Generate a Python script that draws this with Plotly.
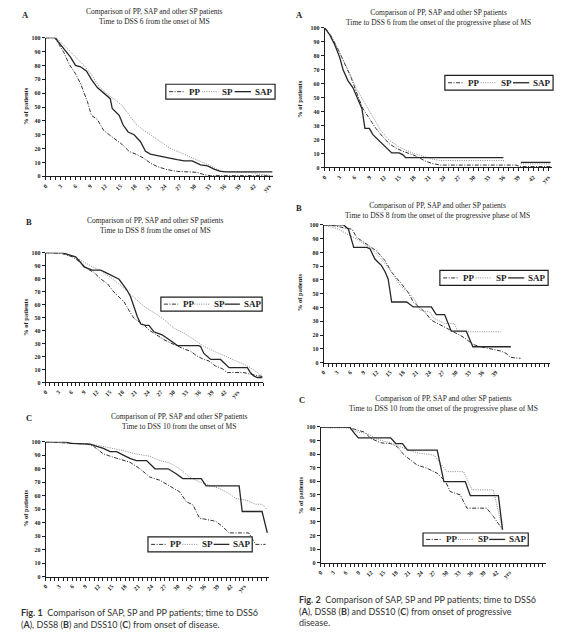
import plotly.graph_objects as go

W, H = 563, 640

# ---------------- data (years, % of patients) ----------------
SERIES = ["PP", "SP", "SAP"]

# Fig 1 A: time to DSS 6 from onset of MS
F1A_PP_X = [0, 1.8, 2.7, 3.7, 4.7, 6, 7, 8.4, 9.2, 10.4, 11.7, 12.8, 14.1, 15.4, 16.8, 18.5, 19.8, 21.1, 22.5, 24.5, 26.5, 28.9, 30.5, 31.9, 33.2, 45.7]
F1A_PP_Y = [100, 100, 95, 89, 81, 74, 67, 54, 44, 41, 33, 30, 26, 23, 18, 15.5, 13, 9.5, 7, 4.8, 3.6, 3, 2.9, 1.2, 0.5, 0.5]
F1A_SP_X = [0, 1.7, 2.7, 4.4, 6, 7.7, 9.1, 10.7, 12.4, 14.1, 15.4, 16.8, 18.1, 19.8, 21.5, 23.2, 25.2, 27.2, 29.2, 31.2, 33.2, 34.6, 36, 38.6, 41.3, 42.6, 44, 45.3]
F1A_SP_Y = [100, 100, 98, 92, 86, 80, 74, 65, 59, 55, 51, 44, 38, 33, 29, 25, 20, 17, 14, 11, 7.6, 4.8, 3.6, 3, 2.9, 1.7, 1.2, 0.7]
F1A_SAP_X = [0, 2, 2.3, 4, 5, 6, 7, 8.2, 9.2, 10.4, 11.7, 13, 13.4, 14.8, 15.6, 16.6, 17.8, 19.1, 20.1, 21.1, 22.5, 23.8, 25.2, 26.5, 27.9, 29.5, 31.2, 32.6, 33.9, 35.2, 36.2, 45.7]
F1A_SAP_Y = [100, 100, 98, 90, 86, 80, 79, 76, 70, 64, 60, 56, 49, 44, 37, 32, 30, 25, 18, 16, 15, 14.3, 13, 12, 11.2, 11.2, 8.3, 7.6, 5.2, 3.6, 3.3, 3.3]

# Fig 1 B: time to DSS 8 from onset of MS
F1B_PP_X = [0, 3.9, 6.3, 8.2, 9.8, 11.3, 12.9, 14.5, 16, 17.2, 18.4, 19.5, 20.7, 21.9, 23, 24.2, 25.4, 26.6, 27.7, 29.3, 30.9, 32.4, 34, 35.5, 37.1, 38.3, 39.8, 41.4, 42.6, 46.5, 48, 49.6, 50.8]
F1B_PP_Y = [100, 99.2, 96.7, 92.4, 87.3, 84.8, 79.7, 76, 69.6, 65.8, 62, 55.7, 49.4, 46.8, 44.3, 40.5, 38, 35.4, 33, 30.4, 27.8, 25.8, 24, 20.3, 17.7, 16.5, 12.7, 10.6, 7.6, 7.6, 6.3, 5, 4.6]
F1B_SP_X = [0, 3.9, 6.3, 8.2, 10.5, 12.9, 15.2, 17.6, 19.9, 21.5, 23, 25.4, 27.7, 30.1, 32.4, 34.8, 37.1, 39.5, 41.8, 44.1, 46.5, 48, 49.6, 50.8]
F1B_SP_Y = [100, 99.2, 97.5, 94, 90, 86, 81, 74.7, 68, 63, 58.7, 53.7, 48.6, 41.8, 38, 33, 27.8, 24, 20.8, 17.7, 13.9, 11.4, 7.6, 5]
F1B_SAP_X = [0, 3.9, 5.1, 6.3, 7, 8.2, 9, 10.9, 12.9, 14, 15.2, 16.4, 17.2, 18, 19.1, 19.9, 20.7, 21.5, 22.3, 23.4, 24.2, 25.4, 26.2, 27.3, 28.9, 29.7, 30.9, 35.9, 36.3, 37.1, 38, 38.7, 41, 41.8, 43, 47.3, 48, 48.8, 49.6, 50.8]
F1B_SAP_Y = [100, 100, 98.7, 97.5, 96.7, 92.4, 89, 86.6, 86.6, 84.8, 83, 81, 79.5, 76, 71, 66, 58, 50.6, 45, 44, 44, 39, 38, 36.7, 33, 31, 28.4, 28.4, 27.8, 22.3, 19.7, 17.7, 17.7, 15.2, 11.4, 11.4, 7.6, 5, 3.8, 3.8]

# Fig 1 C: time to DSS 10 from onset of MS
F1C_PP_X = [0, 9.4, 10.9, 13.1, 16.1, 19.1, 21.4, 23.6, 25.9, 28.1, 30.4, 31.9, 33.4, 34.9, 37.1, 38.6, 40.1, 41.6, 46.1, 47.6, 49.9]
F1C_PP_Y = [100, 98.3, 96.6, 91, 87.8, 84.9, 80, 73.9, 71.5, 67.3, 62.9, 55.6, 53.2, 43.4, 42.2, 41, 37.3, 32.4, 32.4, 23.9, 23.9]
F1C_SP_X = [0, 10.1, 13.1, 15.4, 17.6, 20.6, 23.6, 25.9, 28.1, 30.4, 32.6, 34.9, 37.1, 39.4, 41.6, 43.1, 45.4, 47.6, 49.1, 50.3]
F1C_SP_Y = [100, 98.3, 96.6, 95.1, 93.4, 91, 89.3, 86.1, 84.4, 80, 73.9, 70.2, 67.8, 65.4, 61.7, 58, 56.8, 53.7, 53.7, 49.5]
F1C_SAP_X = [0, 4.5, 5.6, 10.1, 11.6, 13.1, 14.6, 16.1, 17.6, 19.1, 20.6, 22.9, 24.8, 27.8, 29.6, 31.1, 35.3, 36.4, 43.9, 44.6, 49.1, 50.3]
F1C_SAP_Y = [100, 100, 98.8, 98.3, 96.6, 95.1, 92.7, 92.7, 90.2, 87.8, 86.1, 86.1, 80, 80, 76.3, 72.7, 72.7, 67.3, 67.3, 48.3, 48.3, 32.4]

# Fig 2 A: time to DSS 6 from onset of progressive phase
F2A_PP_X = [0, 1.3, 2.7, 4, 5.3, 6.7, 7.7, 9, 10.3, 11.7, 13, 14.3, 15.7, 17, 18.3, 19.3, 20.3, 21.7, 23.3, 38.5, 39.5, 45.5]
F2A_PP_Y = [100, 94, 84.6, 74, 64.5, 51, 42, 35, 28, 22, 17, 14, 11.6, 10, 8.3, 6.4, 4.5, 2.8, 1.7, 1.7, 0.6, 0.6]
F2A_SP_X = [0, 1.3, 3, 4.7, 6.3, 8, 9.7, 11.3, 13, 14.7, 16.3, 18, 19.7, 21, 22, 23.3, 36.4, None, 39.5, 45.5]
F2A_SP_Y = [100, 94, 82, 70, 57, 47, 36, 26.5, 19.4, 15.4, 12.3, 10, 8.3, 6.9, 5.7, 5, 5, None, 2.6, 2.6]
F2A_SAP_X = [0, 1, 2, 3, 3.7, 4.7, 5.7, 6.7, 7.5, 8.1, 9, 9.7, 10.7, 11.7, 12.7, 13.5, 15, 15.7, 16.3, 36, None, 39.5, 45.5]
F2A_SAP_Y = [100, 95, 88, 79, 70, 62, 57, 48, 42, 28, 28, 23.5, 20, 17, 13.5, 10.4, 10.4, 9.2, 7.1, 7.1, None, 3.6, 3.6]

# Fig 2 B: time to DSS 8 from onset of progressive phase
F2B_PP_X = [0, 2.6, 4.9, 6.4, 7.5, 9.8, 12, 13.9, 15.4, 17.3, 19.1, 20.3, 22.9, 24.4, 25.9, 27.8, 29.3, 30.8, 31.9, 33.8, 35.6, 38.6, 40.1, 41.3, 42.4, 44.6]
F2B_PP_Y = [100, 99.3, 97.6, 96.9, 90.9, 86, 81, 74, 65.6, 58.4, 51.2, 44, 36.8, 30.8, 28.4, 24.8, 22.4, 20, 18, 13.2, 11.5, 9.1, 8.4, 6.7, 3.8, 3.1]
F2B_SP_X = [0, 3.4, 5.3, 6.8, 8.6, 10.9, 13.1, 15.4, 17.3, 19.1, 20.6, 21.8, 24, 25.1, 27.4, 29.6, 30.4, 40.1]
F2B_SP_Y = [100, 96.9, 93.3, 90.9, 87.3, 82.5, 75.2, 65.6, 56, 51.2, 45.9, 38, 36.8, 32, 28.4, 28.4, 22.4, 22.4]
F2B_SAP_X = [0, 4.5, 5.6, 6.8, 9.8, 10.5, 11.6, 13.1, 13.9, 14.6, 15.4, 18.8, 20.3, 24.4, 25.5, 27.4, 28.9, 32.3, 33.8, 42.4]
F2B_SAP_Y = [100, 100, 96.9, 83.7, 83.7, 82.5, 75.2, 70.4, 66, 60.8, 44, 44, 40.4, 40.4, 34.9, 34.9, 22.8, 22.8, 11.5, 11.5]

# Fig 2 C: time to DSS 10 from onset of progressive phase
F2C_PP_X = [0, 6.5, 8.4, 10.4, 12, 14.4, 16.7, 18.3, 19.9, 21.5, 23, 25.4, 27.8, 29.8, 30.9, 33.3, 34.9, 39.6, 41.2, 43.4]
F2C_PP_Y = [100, 100, 98, 96.3, 91.5, 88.3, 87.8, 85.4, 79.3, 75.6, 72, 69.5, 65.9, 59.8, 52.4, 50, 40.2, 40.2, 34.1, 24.4]
F2C_SP_X = [0, 1.7, 6.5, 8.8, 11.2, 13.6, 16.7, 19.1, 21.5, 23.8, 27, 28.6, 30.1, 34.1, 36.1, 41.2, 43.4]
F2C_SP_Y = [100, 99.3, 99.3, 96.3, 95.1, 90.7, 88.3, 85.4, 82.4, 80.5, 79.3, 73.2, 67.1, 67.1, 53.7, 53.7, 24.4]
F2C_SAP_X = [0, 6.9, 8.1, 9, 11.6, 16.7, 17.9, 19.5, 20.7, 27.8, 29.4, 34.5, 35.7, 42.4, 43.4]
F2C_SAP_Y = [100, 100, 95.1, 92, 92, 92, 87.8, 87.8, 82.9, 82.9, 59.8, 59.8, 49.5, 49.5, 24.4]

# tick labels
Y_TICKS = [0, 10, 20, 30, 40, 50, 60, 70, 80, 90, 100]
X_TICKS_45 = [0, 3, 6, 9, 12, 15, 18, 21, 24, 27, 30, 33, 36, 39, 42, 45]
X_LABELS_45 = ["0", "3", "6", "9", "12", "15", "18", "21", "24", "27", "30", "33", "36", "39", "42", "yrs"]
X_TICKS_39 = [0, 3, 6, 9, 12, 15, 18, 21, 24, 27, 30, 33, 36, 39]
X_LABELS_39 = ["0", "3", "6", "9", "12", "15", "18", "21", "24", "27", "30", "33", "36", "39"]

TITLE_L1 = "Comparison of PP, SAP and other SP patients"
TITLES_L2 = {
    "F1A": "Time to DSS 6 from the onset of MS",
    "F1B": "Time to DSS 8 from the onset of MS",
    "F1C": "Time to DSS 10 from the onset of MS",
    "F2A": "Time to DSS 6 from the onset of the progressive phase of MS",
    "F2B": "Time to DSS 8 from the onset of the progressive phase of MS",
    "F2C": "Time to DSS 10 from the onset of the progressive phase of MS",
}

DATA = {
    "F1A": {"PP": (F1A_PP_X, F1A_PP_Y), "SP": (F1A_SP_X, F1A_SP_Y), "SAP": (F1A_SAP_X, F1A_SAP_Y)},
    "F1B": {"PP": (F1B_PP_X, F1B_PP_Y), "SP": (F1B_SP_X, F1B_SP_Y), "SAP": (F1B_SAP_X, F1B_SAP_Y)},
    "F1C": {"PP": (F1C_PP_X, F1C_PP_Y), "SP": (F1C_SP_X, F1C_SP_Y), "SAP": (F1C_SAP_X, F1C_SAP_Y)},
    "F2A": {"PP": (F2A_PP_X, F2A_PP_Y), "SP": (F2A_SP_X, F2A_SP_Y), "SAP": (F2A_SAP_X, F2A_SAP_Y)},
    "F2B": {"PP": (F2B_PP_X, F2B_PP_Y), "SP": (F2B_SP_X, F2B_SP_Y), "SAP": (F2B_SAP_X, F2B_SAP_Y)},
    "F2C": {"PP": (F2C_PP_X, F2C_PP_Y), "SP": (F2C_SP_X, F2C_SP_Y), "SAP": (F2C_SAP_X, F2C_SAP_Y)},
}

# ---------------- layout (pixels) ----------------
SERIF = "Liberation Serif"
SANS = "Lato"
INK = "#1e1e1e"

STYLE = {
    "PP": dict(color="#333333", width=1, dash="4px,1.5px,1px,1.5px"),
    "SP": dict(color="#8a8a8a", width=1, dash="1px,1.3px"),
    "SAP": dict(color="#262626", width=1.3),
}

PANELS = [
    dict(key="F1A", letter="A", x0=42, x1=270.5, xmax=45.7, y100=35, y0=175, ticks="45",
         legend=(163, 82, 273, 97), title=(152, 14), letterpos=(22, 12), ytitle=(21, 104)),
    dict(key="F1B", letter="B", x0=42, x1=261, xmax=51, y100=252, y0=383, ticks="45",
         legend=(158, 297, 260, 311), title=(153, 224.5), letterpos=(25, 221), ytitle=(21, 317)),
    dict(key="F1C", letter="C", x0=42, x1=267, xmax=50.7, y100=443, y0=579, ticks="45",
         legend=(145, 539, 250, 554), title=(177, 422.5), letterpos=(25, 419), ytitle=(21, 510)),
    dict(key="F2A", letter="A", x0=323, x1=551.5, xmax=45.7, y100=25, y0=166, ticks="45",
         legend=(444, 73, 553, 88), title=(438, 14.5), letterpos=(298, 12), ytitle=(297, 97)),
    dict(key="F2B", letter="B", x0=322, x1=550, xmax=51.3, y100=224, y0=363, ticks="39",
         legend=(439, 270, 548, 285), title=(437, 209), letterpos=(297, 207), ytitle=(297, 292)),
    dict(key="F2C", letter="C", x0=319, x1=546, xmax=53.8, y100=428, y0=565, ticks="45",
         legend=(422, 535, 528, 548), title=(443, 404), letterpos=(300, 401), ytitle=(298, 497)),
]

# legend key layout, as fractions of the legend box width
KEY_SAMPLE = [(0.03, 0.17), (0.33, 0.48), (0.63, 0.78)]
KEY_TEXT = [0.195, 0.50, 0.80]


def fx(px):
    return px / W


def fy(py):
    return 1 - py / H


fig = go.Figure()
layout = dict(
    width=W, height=H, margin=dict(l=0, r=0, t=0, b=0),
    paper_bgcolor="white", plot_bgcolor="rgba(0,0,0,0)",
    showlegend=False, annotations=[], shapes=[],
)

tick_font = dict(family=SERIF, size=6, color=INK, weight="bold")

for i, p in enumerate(PANELS, start=1):
    sfx = "" if i == 1 else str(i)
    tv, tt = (X_TICKS_45, X_LABELS_45) if p["ticks"] == "45" else (X_TICKS_39, X_LABELS_39)

    layout[f"xaxis{sfx}"] = dict(
        domain=[fx(p["x0"]), fx(p["x1"])], range=[0, p["xmax"]], anchor=f"y{sfx}",
        showline=True, linecolor=INK, linewidth=1, showgrid=False, zeroline=False,
        ticks="outside", ticklen=3, tickwidth=1, tickcolor=INK,
        tickmode="array", tickvals=tv, ticktext=tt, tickangle=-45, tickfont=tick_font,
        minor=dict(tickmode="linear", tick0=0, dtick=1, ticks="outside", ticklen=3,
                   tickwidth=1, tickcolor=INK, showgrid=False),
        fixedrange=True,
    )
    layout[f"yaxis{sfx}"] = dict(
        domain=[fy(p["y0"]), fy(p["y100"])], range=[0, 100], anchor=f"x{sfx}",
        showline=True, linecolor=INK, linewidth=1, showgrid=False, zeroline=False,
        ticks="outside", ticklen=3, tickwidth=1, tickcolor=INK,
        tickmode="array", tickvals=Y_TICKS, tickfont=tick_font, fixedrange=True,
    )

    for name in SERIES:
        xs, ys = DATA[p["key"]][name]
        fig.add_trace(go.Scatter(
            x=xs, y=ys, mode="lines", name=name, line=STYLE[name],
            xaxis=f"x{sfx}", yaxis=f"y{sfx}", showlegend=False,
            connectgaps=False, cliponaxis=False, hoverinfo="skip",
        ))

    # legend key box
    l, t, r, b = p["legend"]
    w = r - l
    ym = (t + b) / 2
    layout["shapes"].append(dict(
        type="rect", xref="paper", yref="paper", x0=fx(l), x1=fx(r), y0=fy(b), y1=fy(t),
        line=dict(color=INK, width=1.2), fillcolor="white", layer="above",
    ))
    for k, name in enumerate(SERIES):
        a, c = KEY_SAMPLE[k]
        st = STYLE[name]
        layout["shapes"].append(dict(
            type="line", xref="paper", yref="paper",
            x0=fx(l + a * w), x1=fx(l + c * w), y0=fy(ym), y1=fy(ym),
            line=dict(color=st["color"], width=st["width"], dash=st.get("dash", "solid")),
            layer="above",
        ))
        layout["annotations"].append(dict(
            x=fx(l + KEY_TEXT[k] * w), y=fy(ym), xref="paper", yref="paper",
            xanchor="left", yanchor="middle", text="<b>" + name + "</b>", showarrow=False,
            font=dict(family=SERIF, size=9, color=INK),
        ))

    tx, tyy = p["title"]
    layout["annotations"].append(dict(
        x=fx(tx), y=fy(tyy), xref="paper", yref="paper", xanchor="center", yanchor="middle",
        text=TITLE_L1 + "<br>" + TITLES_L2[p["key"]], showarrow=False,
        font=dict(family=SERIF, size=7.5, color=INK), align="center",
    ))
    lx2, ly2 = p["letterpos"]
    layout["annotations"].append(dict(
        x=fx(lx2), y=fy(ly2), xref="paper", yref="paper", xanchor="center", yanchor="middle",
        text="<b>" + p["letter"] + "</b>", showarrow=False,
        font=dict(family=SERIF, size=8.5, color=INK),
    ))
    yx, yy = p["ytitle"]
    layout["annotations"].append(dict(
        x=fx(yx), y=fy(yy), xref="paper", yref="paper", xanchor="center", yanchor="middle",
        text="% of patients", textangle=-90, showarrow=False,
        font=dict(family=SERIF, size=6.5, color=INK, weight="bold"),
    ))

CAPTION_1 = ("<b>Fig. 1</b>  Comparison of SAP, SP and PP patients; time to DSS6<br>"
             "(<b>A</b>), DSS8 (<b>B</b>) and DSS10 (<b>C</b>) from onset of disease.")
CAPTION_2 = ("<b>Fig. 2</b>  Comparison of SAP, SP and PP patients; time to DSS6<br>"
             "(<b>A</b>), DSS8 (<b>B</b>) and DSS10 (<b>C</b>) from onset of progressive<br>"
             "disease.")
layout["annotations"].append(dict(
    x=fx(15), y=fy(608), xref="paper", yref="paper", xanchor="left", yanchor="top",
    text=CAPTION_1, showarrow=False, align="left",
    font=dict(family=SANS, size=9, color="#333333"),
))
layout["annotations"].append(dict(
    x=fx(295), y=fy(595), xref="paper", yref="paper", xanchor="left", yanchor="top",
    text=CAPTION_2, showarrow=False, align="left",
    font=dict(family=SANS, size=9, color="#333333"),
))

fig.update_layout(**layout)
fig.write_html(
    "out.html",
    config={"displayModeBar": False, "staticPlot": True},
    post_script="document.body.style.margin='0';document.body.style.overflow='hidden';",
)
